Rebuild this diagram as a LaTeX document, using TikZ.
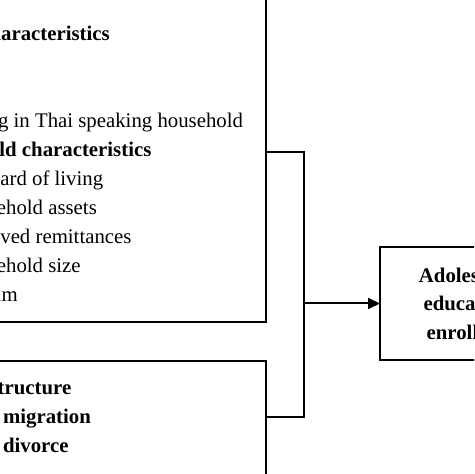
\documentclass[tikz,border=0pt]{standalone}
\usepackage{fontspec}
\setmainfont{Liberation Serif}
\usetikzlibrary{arrows.meta}
\newcommand\diagfont{\fontsize{10.4}{14.5}\selectfont}

\begin{document}
\begin{tikzpicture}[x=0.5pt, y=-0.5pt, line width=1pt,
    box/.style={draw, inner sep=0pt, outer sep=0pt},
    txt/.style={anchor=base west, inner sep=0pt, font=\diagfont},
    head/.style={txt, font=\diagfont\bfseries}]
    \useasboundingbox (0, 0) rectangle (474, 474);
    \clip (0, 0) rectangle (474, 474);
    % boxes
    \node[box, minimum width=193pt, minimum height=170pt] (youthbox) at (73, 152) {};
    \node[box, minimum width=193pt, minimum height=70pt] (fambox) at (73, 431) {};
    \node[box, minimum width=95pt, minimum height=56.5pt, align=center,
        font=\fontsize{10.4}{14.25}\selectfont\bfseries] (enrol) at (475, 303.5)
        {Adolescents'\\educational\\enrollment};
    % top box text
    \node[head] (youthhd) at (-79, 40.7) {Youth characteristics};
    \node[txt] (thai) at (-48, 127.7) {Living in Thai speaking household};
    \node[head] (hhhd) at (-79, 156.7) {Household characteristics};
    \node[txt] (living) at (-48, 185.7) {Standard of living};
    \node[txt] (assets) at (-48, 214.7) {Household assets};
    \node[txt] (remit) at (-48, 243.7) {Received remittances};
    \node[txt] (hhsize) at (-48, 272.7) {Household size};
    \node[txt] (muslim) at (-48, 301.7) {Muslim};
    % bottom box text
    \node[head] (famhd) at (-79, 394.5) {Family structure};
    \node[head] (migr) at (-79, 423.5) {Parental migration};
    \node[head] (divorce) at (-79, 452.5) {Parental divorce};
    % connectors
    \coordinate (jtop) at (304, 152);
    \coordinate (jbot) at (304, 417);
    \coordinate (jmid) at (304, 303.5);
    \draw (youthbox.east) -- (jtop) -- (jbot) -- (fambox.east |- jbot);
    \draw[-{Triangle[length=6pt, width=5.5pt]}] (jmid) -- (enrol.west);
\end{tikzpicture}
\end{document}
